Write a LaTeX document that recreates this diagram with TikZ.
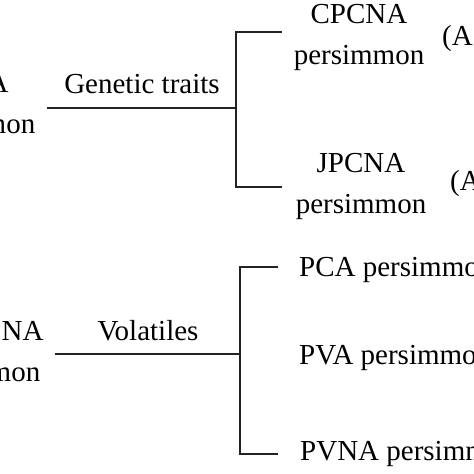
\documentclass[tikz,border=0pt]{standalone}
\usepackage{fontspec}
\setmainfont{Liberation Serif}
\definecolor{line-grey}{RGB}{35, 35, 35}
\tikzset{
	lbl/.style={font=\fontsize{29}{41}\selectfont, inner sep=0pt, anchor=base, text=black},
	twolines/.style={lbl, align=center},
	branch/.style={draw=line-grey, line width=1.7pt}
}

\begin{document}
\begin{tikzpicture}[x=1pt, y=-1pt]
	\useasboundingbox (0 ,0) rectangle (474 ,474);
	\clip (0 ,0) rectangle (474 ,474);
	\fill [white] (0 ,0) rectangle (474 ,474);
	
	\node [twolines, inner xsep=12pt] (pcna) at (-30 ,133) {PCNA\\persimmon};
	\node [lbl] (genetic) at (142 ,93) {Genetic traits};
	\node [twolines] (cpcna) at (359 ,64) {CPCNA\\persimmon};
	\node [twolines] (jpcna) at (361 ,213) {JPCNA\\persimmon};
	\node [lbl, anchor=base west] (labA) at (442 ,45) {(A};
	\node [lbl, anchor=base west] (labB) at (450 ,190) {(A};
	
	\node [twolines, inner xsep=11pt] (nonpcna) at (-25 ,381) {Non-PCNA\\persimmon};
	\node [lbl] (volat) at (148 ,340) {Volatiles};
	\node [lbl, anchor=base west] (pca) at (299 ,276) {PCA persimmon};
	\node [lbl, anchor=base west] (pva) at (299 ,364) {PVA persimmon};
	\node [lbl, anchor=base west] (pvna) at (300 ,460) {PVNA persimmon};
	
	\coordinate (gj) at (236 ,108);
	\coordinate (gtop) at (282 ,32);
	\coordinate (gbot) at (282 ,187);
	\coordinate (vj) at (240 ,354);
	\coordinate (vtop) at (278 ,267);
	\coordinate (vbot) at (278 ,454);
	
	\draw [branch] (pcna.east |- gj) -- (gj);
	\draw [branch] (gtop) -| (gj) |- (gbot);
	\draw [branch] (nonpcna.east |- vj) -- (vj);
	\draw [branch] (vtop) -| (vj) |- (vbot);
\end{tikzpicture}
\end{document}
